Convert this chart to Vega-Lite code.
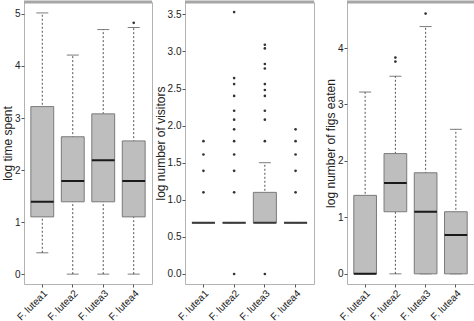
{
  "$schema": "https://vega.github.io/schema/vega-lite/v6.json",
  "background": "white",
  "padding": {"left": 0, "top": 0, "right": 0, "bottom": 0},
  "bounds": "flush",
  "spacing": 33,
  "config": {
    "font": "Liberation Sans",
    "view": {"stroke": "#b3b3b3", "strokeWidth": 1},
    "axis": {
      "grid": false,
      "domain": false,
      "tickColor": "#555555",
      "tickSize": 3,
      "labelColor": "#222222",
      "labelFontSize": 10,
      "labelPadding": 1,
      "titleFontSize": 12,
      "titleFontWeight": "normal",
      "titleColor": "#222222",
      "titlePadding": 0
    }
  },
  "datasets": {
    "time": [
      {"species": "F. lutea1", "lower": 0.41, "q1": 1.10, "median": 1.39, "q3": 3.22, "upper": 5.02},
      {"species": "F. lutea2", "lower": 0.0, "q1": 1.39, "median": 1.79, "q3": 2.64, "upper": 4.21},
      {"species": "F. lutea3", "lower": 0.0, "q1": 1.39, "median": 2.19, "q3": 3.08, "upper": 4.70},
      {"species": "F. lutea4", "lower": 0.0, "q1": 1.10, "median": 1.79, "q3": 2.56, "upper": 4.74}
    ],
    "time_out": [
      {"species": "F. lutea4", "value": 4.83}
    ],
    "visitors": [
      {"species": "F. lutea1", "lower": 0.69, "q1": 0.69, "median": 0.69, "q3": 0.69, "upper": 0.69},
      {"species": "F. lutea2", "lower": 0.69, "q1": 0.69, "median": 0.69, "q3": 0.69, "upper": 0.69},
      {"species": "F. lutea3", "lower": 0.69, "q1": 0.69, "median": 0.69, "q3": 1.10, "upper": 1.50},
      {"species": "F. lutea4", "lower": 0.69, "q1": 0.69, "median": 0.69, "q3": 0.69, "upper": 0.69}
    ],
    "visitors_out": [
      {"species": "F. lutea1", "value": 1.10},
      {"species": "F. lutea1", "value": 1.39},
      {"species": "F. lutea1", "value": 1.61},
      {"species": "F. lutea1", "value": 1.79},
      {"species": "F. lutea2", "value": 0.0},
      {"species": "F. lutea2", "value": 1.10},
      {"species": "F. lutea2", "value": 1.39},
      {"species": "F. lutea2", "value": 1.61},
      {"species": "F. lutea2", "value": 1.79},
      {"species": "F. lutea2", "value": 1.95},
      {"species": "F. lutea2", "value": 2.08},
      {"species": "F. lutea2", "value": 2.20},
      {"species": "F. lutea2", "value": 2.40},
      {"species": "F. lutea2", "value": 2.56},
      {"species": "F. lutea2", "value": 2.64},
      {"species": "F. lutea2", "value": 3.53},
      {"species": "F. lutea3", "value": 0.0},
      {"species": "F. lutea3", "value": 1.79},
      {"species": "F. lutea3", "value": 2.08},
      {"species": "F. lutea3", "value": 2.20},
      {"species": "F. lutea3", "value": 2.40},
      {"species": "F. lutea3", "value": 2.48},
      {"species": "F. lutea3", "value": 2.56},
      {"species": "F. lutea3", "value": 2.77},
      {"species": "F. lutea3", "value": 2.83},
      {"species": "F. lutea3", "value": 3.04},
      {"species": "F. lutea3", "value": 3.09},
      {"species": "F. lutea4", "value": 1.10},
      {"species": "F. lutea4", "value": 1.39},
      {"species": "F. lutea4", "value": 1.61},
      {"species": "F. lutea4", "value": 1.79},
      {"species": "F. lutea4", "value": 1.95}
    ],
    "figs": [
      {"species": "F. lutea1", "lower": 0.0, "q1": 0.0, "median": 0.0, "q3": 1.39, "upper": 3.22},
      {"species": "F. lutea2", "lower": 0.0, "q1": 1.10, "median": 1.61, "q3": 2.13, "upper": 3.50},
      {"species": "F. lutea3", "lower": 0.0, "q1": 0.0, "median": 1.10, "q3": 1.79, "upper": 4.38},
      {"species": "F. lutea4", "lower": 0.0, "q1": 0.0, "median": 0.69, "q3": 1.10, "upper": 2.56}
    ],
    "figs_out": [
      {"species": "F. lutea2", "value": 3.76},
      {"species": "F. lutea2", "value": 3.83},
      {"species": "F. lutea3", "value": 4.61}
    ]
  },
  "hconcat": [
    {
      "width": 128,
      "height": 282,
      "data": {"name": "time"},
      "layer": [
        {
          "mark": {"type": "rule", "strokeDash": [2, 2], "color": "#555555", "strokeWidth": 1},
          "encoding": {
            "x": {"field": "species", "type": "nominal", "title": null, "scale": {"paddingInner": 0.25, "paddingOuter": 0.225}, "axis": {"labelAngle": -45, "labelAlign": "right", "labelBaseline": "top", "labelLimit": 0}},
            "y": {"field": "lower", "type": "quantitative", "title": "log time spent", "scale": {"domain": [-0.19, 5.23], "nice": false, "zero": false}, "axis": {"values": [0, 1, 2, 3, 4, 5], "format": "d"}},
            "y2": {"field": "upper"}
          }
        },
        {
          "mark": {"type": "tick", "size": 12, "thickness": 1, "color": "#444444"},
          "encoding": {
            "x": {"field": "species", "type": "nominal", "title": null},
            "y": {"field": "lower", "type": "quantitative", "title": "log time spent"}
          }
        },
        {
          "mark": {"type": "tick", "size": 12, "thickness": 1, "color": "#444444"},
          "encoding": {
            "x": {"field": "species", "type": "nominal", "title": null},
            "y": {"field": "upper", "type": "quantitative", "title": "log time spent"}
          }
        },
        {
          "mark": {"type": "bar", "fill": "#bebebe", "stroke": "#7a7a7a", "strokeWidth": 1},
          "encoding": {
            "x": {"field": "species", "type": "nominal", "title": null},
            "y": {"field": "q1", "type": "quantitative", "title": "log time spent"},
            "y2": {"field": "q3"}
          }
        },
        {
          "mark": {"type": "bar", "fillOpacity": 0, "stroke": "#1a1a1a", "strokeWidth": 2},
          "encoding": {
            "x": {"field": "species", "type": "nominal", "title": null},
            "y": {"field": "median", "type": "quantitative", "title": "log time spent"},
            "y2": {"field": "median"}
          }
        },
        {
          "data": {"name": "time_out"},
          "mark": {"type": "circle", "size": 7, "color": "#333333", "opacity": 1},
          "encoding": {
            "x": {"field": "species", "type": "nominal", "title": null},
            "y": {"field": "value", "type": "quantitative", "title": "log time spent"}
          }
        },
        {
          "data": {"values": [{}]},
          "mark": {"type": "rule", "color": "#a6a6a6", "strokeWidth": 3},
          "encoding": {"y": {"datum": 5.23, "type": "quantitative"}}
        }
      ]
    },
    {
      "width": 129,
      "height": 282,
      "data": {"name": "visitors"},
      "layer": [
        {
          "mark": {"type": "rule", "strokeDash": [2, 2], "color": "#555555", "strokeWidth": 1},
          "encoding": {
            "x": {"field": "species", "type": "nominal", "title": null, "scale": {"paddingInner": 0.25, "paddingOuter": 0.225}, "axis": {"labelAngle": -45, "labelAlign": "right", "labelBaseline": "top", "labelLimit": 0}},
            "y": {"field": "lower", "type": "quantitative", "title": "log number of visitors", "scale": {"domain": [-0.135, 3.666], "nice": false, "zero": false}, "axis": {"values": [0, 0.5, 1, 1.5, 2, 2.5, 3, 3.5], "format": ".1f"}},
            "y2": {"field": "upper"}
          }
        },
        {
          "mark": {"type": "tick", "size": 12, "thickness": 1, "color": "#444444"},
          "encoding": {
            "x": {"field": "species", "type": "nominal", "title": null},
            "y": {"field": "upper", "type": "quantitative", "title": "log number of visitors"}
          }
        },
        {
          "mark": {"type": "bar", "fill": "#bebebe", "stroke": "#7a7a7a", "strokeWidth": 1},
          "encoding": {
            "x": {"field": "species", "type": "nominal", "title": null},
            "y": {"field": "q1", "type": "quantitative", "title": "log number of visitors"},
            "y2": {"field": "q3"}
          }
        },
        {
          "mark": {"type": "bar", "fillOpacity": 0, "stroke": "#3a3a3a", "strokeWidth": 2},
          "encoding": {
            "x": {"field": "species", "type": "nominal", "title": null},
            "y": {"field": "median", "type": "quantitative", "title": "log number of visitors"},
            "y2": {"field": "median"}
          }
        },
        {
          "data": {"name": "visitors_out"},
          "mark": {"type": "circle", "size": 7, "color": "#333333", "opacity": 1},
          "encoding": {
            "x": {"field": "species", "type": "nominal", "title": null},
            "y": {"field": "value", "type": "quantitative", "title": "log number of visitors"}
          }
        },
        {
          "data": {"values": [{}]},
          "mark": {"type": "rule", "color": "#a6a6a6", "strokeWidth": 3},
          "encoding": {"y": {"datum": 3.666, "type": "quantitative"}}
        }
      ]
    },
    {
      "width": 127,
      "height": 282,
      "data": {"name": "figs"},
      "layer": [
        {
          "mark": {"type": "rule", "strokeDash": [2, 2], "color": "#555555", "strokeWidth": 1},
          "encoding": {
            "x": {"field": "species", "type": "nominal", "title": null, "scale": {"paddingInner": 0.25, "paddingOuter": 0.225}, "axis": {"labelAngle": -45, "labelAlign": "right", "labelBaseline": "top", "labelLimit": 0}},
            "y": {"field": "lower", "type": "quantitative", "title": "log number of figs eaten", "scale": {"domain": [-0.18, 4.815], "nice": false, "zero": false}, "axis": {"values": [0, 1, 2, 3, 4], "format": "d"}},
            "y2": {"field": "upper"}
          }
        },
        {
          "mark": {"type": "tick", "size": 12, "thickness": 1, "color": "#444444"},
          "encoding": {
            "x": {"field": "species", "type": "nominal", "title": null},
            "y": {"field": "lower", "type": "quantitative", "title": "log number of figs eaten"}
          }
        },
        {
          "mark": {"type": "tick", "size": 12, "thickness": 1, "color": "#444444"},
          "encoding": {
            "x": {"field": "species", "type": "nominal", "title": null},
            "y": {"field": "upper", "type": "quantitative", "title": "log number of figs eaten"}
          }
        },
        {
          "mark": {"type": "bar", "fill": "#bebebe", "stroke": "#7a7a7a", "strokeWidth": 1},
          "encoding": {
            "x": {"field": "species", "type": "nominal", "title": null},
            "y": {"field": "q1", "type": "quantitative", "title": "log number of figs eaten"},
            "y2": {"field": "q3"}
          }
        },
        {
          "mark": {"type": "bar", "fillOpacity": 0, "stroke": "#1a1a1a", "strokeWidth": 2},
          "encoding": {
            "x": {"field": "species", "type": "nominal", "title": null},
            "y": {"field": "median", "type": "quantitative", "title": "log number of figs eaten"},
            "y2": {"field": "median"}
          }
        },
        {
          "data": {"name": "figs_out"},
          "mark": {"type": "circle", "size": 7, "color": "#333333", "opacity": 1},
          "encoding": {
            "x": {"field": "species", "type": "nominal", "title": null},
            "y": {"field": "value", "type": "quantitative", "title": "log number of figs eaten"}
          }
        },
        {
          "data": {"values": [{}]},
          "mark": {"type": "rule", "color": "#a6a6a6", "strokeWidth": 3},
          "encoding": {"y": {"datum": 4.815, "type": "quantitative"}}
        }
      ]
    }
  ]
}
